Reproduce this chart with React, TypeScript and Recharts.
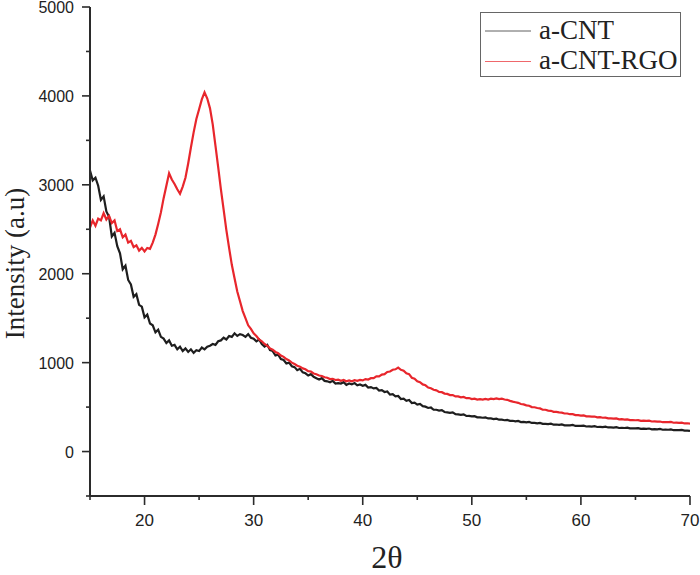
import React from 'react';
import { LineChart, Line, XAxis, YAxis, Legend } from 'recharts';

// 2θ sampling grid of the diffractograms
const THETA_START = 15;
const THETA_STEP = 0.25;

// Intensity (a.u), one value per 0.25° from 15° to 70°
const aCNT = [
  3160, 3050, 3080, 2990,
  2830, 2870, 2700, 2640,
  2420, 2460, 2310, 2230,
  2050, 2090, 1930, 1880,
  1740, 1770, 1650, 1630,
  1510, 1540, 1440, 1420,
  1340, 1370, 1290, 1270,
  1220, 1250, 1190, 1200,
  1150, 1180, 1130, 1160,
  1120, 1150, 1110, 1140,
  1130, 1170, 1150, 1180,
  1190, 1210, 1200, 1240,
  1250, 1280, 1260, 1300,
  1290, 1330, 1300, 1320,
  1310, 1290, 1320, 1280,
  1270, 1240, 1260, 1210,
  1180, 1200, 1140, 1130,
  1080, 1090, 1040, 1030,
  990, 1000, 960, 950,
  915, 930, 890, 880,
  855, 870, 840, 825,
  810, 825, 795, 790,
  780, 795, 765, 770,
  765, 780, 750, 765,
  755, 770, 745, 755,
  740, 750, 720, 725,
  710, 715, 685, 690,
  670, 675, 640, 645,
  620, 625, 590, 595,
  570, 580, 545, 550,
  528, 535, 510, 505,
  490, 495, 470, 470,
  460, 465, 445, 440,
  435, 440, 420, 418,
  412, 418, 400, 402,
  395, 398, 385, 385,
  380, 383, 372, 372,
  365, 370, 358, 358,
  352, 356, 345, 346,
  340, 344, 332, 334,
  328, 333, 322, 323,
  318, 322, 312, 312,
  308, 313, 302, 304,
  300, 305, 295, 296,
  294, 299, 288, 290,
  288, 292, 282, 284,
  281, 286, 276, 278,
  275, 280, 271, 272,
  270, 275, 265, 267,
  265, 269, 260, 262,
  260, 264, 255, 257,
  255, 259, 250, 252,
  250, 254, 245, 247,
  245, 249, 240, 242,
  240, 244, 235, 236,
  232,
];

const aCNTRGO = [
  2520, 2600, 2540, 2620,
  2600, 2680, 2610, 2650,
  2570, 2600, 2480, 2500,
  2410, 2440, 2350, 2370,
  2300, 2320, 2260, 2290,
  2250, 2290, 2280, 2350,
  2440, 2560, 2690, 2850,
  2990, 3130, 3060, 3010,
  2950, 2900, 2980, 3080,
  3240, 3420, 3590, 3740,
  3850, 3960, 4040, 3970,
  3860, 3680, 3440, 3200,
  2950, 2720, 2490, 2290,
  2100, 1950, 1800, 1690,
  1580, 1500, 1420, 1380,
  1330, 1300, 1260, 1240,
  1210, 1190, 1160, 1145,
  1120, 1105, 1080, 1065,
  1040, 1025, 1000, 985,
  965, 955, 935, 925,
  905, 900, 878, 870,
  855, 850, 835, 830,
  815, 818, 805, 808,
  795, 805, 790, 800,
  790, 802, 795, 805,
  800, 815, 810, 825,
  825, 845, 845, 865,
  870, 895, 900, 920,
  925, 945, 920, 910,
  880, 870, 830, 820,
  790, 780, 755, 745,
  720, 712, 695, 688,
  670, 668, 652, 648,
  635, 636, 620, 620,
  610, 614, 600, 602,
  590, 595, 585, 590,
  585, 592, 585, 595,
  590, 598, 590, 594,
  585, 582, 570, 562,
  555, 548, 535, 530,
  520, 515, 500, 498,
  490, 485, 470, 470,
  460, 458, 446, 446,
  440, 438, 428, 428,
  420, 420, 410, 410,
  405, 406, 396, 396,
  392, 394, 385, 386,
  380, 382, 373, 374,
  370, 372, 363, 364,
  360, 362, 354, 355,
  352, 354, 346, 347,
  345, 347, 338, 339,
  336, 338, 330, 331,
  330, 333, 324, 325,
  322, 325, 316, 318,
  315,
];

const X_TICKS = [15, 20, 25, 30, 35, 40, 45, 50, 55, 60, 65, 70];
const Y_TICKS = [-500, 0, 500, 1000, 1500, 2000, 2500, 3000, 3500, 4000, 4500, 5000];

const SERIES = [
  { key: 'aCNT', name: 'a-CNT', color: '#1e1e1e' },
  { key: 'aCNTRGO', name: 'a-CNT-RGO', color: '#e8262c' },
];

const rows = aCNT.map((v, i) => ({
  theta: THETA_START + i * THETA_STEP,
  aCNT: v,
  aCNTRGO: aCNTRGO[i],
}));

const AXIS = '#2b2b2b';
const SANS = '"Liberation Sans", Arial, sans-serif';
const SERIF = '"Liberation Serif", "Times New Roman", serif';

const XTick = (props: any) => {
  const { x, y, payload } = props;
  const major = payload.value % 10 === 0;
  return (
    <g>
      <line x1={x} x2={x} y1={y} y2={y + (major ? 9 : 4)} stroke={AXIS} strokeWidth={1.6} />
      {major && (
        <text x={x} y={y + 30} textAnchor="middle" fontFamily={SANS} fontSize={17} fill="#222">
          {payload.value}
        </text>
      )}
    </g>
  );
};

const YTick = (props: any) => {
  const { x, y, payload } = props;
  const major = payload.value % 1000 === 0;
  return (
    <g>
      <line x1={x - (major ? 8 : 4)} x2={x} y1={y} y2={y} stroke={AXIS} strokeWidth={1.6} />
      {major && (
        <text x={x - 16} y={y + 6} textAnchor="end" fontFamily={SANS} fontSize={16} fill="#222">
          {payload.value}
        </text>
      )}
    </g>
  );
};

const YTitle = (props: any) => {
  const vb = props.viewBox;
  const cx = vb.x + 24;
  const cy = vb.y + vb.height / 2 + 12;
  return (
    <text
      x={cx}
      y={cy}
      transform={`rotate(-90, ${cx}, ${cy})`}
      textAnchor="middle"
      fontFamily={SERIF}
      fontSize={27}
      fill="#222"
    >
      Intensity (a.u)
    </text>
  );
};

const XTitle = (props: any) => {
  const vb = props.viewBox;
  return (
    <text
      x={vb.x + vb.width / 2 - 3}
      y={vb.y + 72}
      textAnchor="middle"
      fontFamily={SERIF}
      fontSize={32}
      fill="#222"
    >
      2θ
    </text>
  );
};

const LegendBox = (props: any) => {
  const payload = props.payload || [];
  return (
    <svg width={202} height={66} style={{ display: 'block' }}>
      <rect x={0.5} y={0.5} width={200} height={64} fill="#fff" stroke="#666" strokeWidth={1} />
      {payload.map((p: any, i: number) => (
        <g key={p.value}>
          <line
            x1={5}
            x2={51}
            y1={19 + i * 30.5}
            y2={19 + i * 30.5}
            stroke={p.color}
            strokeOpacity={0.7}
            strokeWidth={1}
          />
          <text x={59} y={26.5 + i * 30} fontFamily={SERIF} fontSize={27} fill="#222">
            {p.value}
          </text>
        </g>
      ))}
    </svg>
  );
};

export default function App() {
  return (
    <div style={{ position: 'absolute', left: 0, top: 0, width: 700, height: 575, background: '#fff' }}>
      <LineChart width={700} height={575} data={rows} margin={{ top: 7, right: 10, bottom: 0, left: 0 }}>
        <XAxis
          dataKey="theta"
          type="number"
          domain={[15, 70]}
          ticks={X_TICKS}
          interval={0}
          height={79}
          tickSize={0}
          tickMargin={0}
          tickLine={false}
          axisLine={{ stroke: AXIS, strokeWidth: 2 }}
          tick={<XTick />}
          label={<XTitle />}
          allowDataOverflow
        />
        <XAxis
          xAxisId="top"
          dataKey="theta"
          type="number"
          orientation="top"
          domain={[15, 70]}
          height={0}
          tick={false}
          tickLine={false}
          axisLine={{ stroke: AXIS, strokeWidth: 1.6 }}
        />
        <YAxis
          type="number"
          domain={[-500, 5000]}
          ticks={Y_TICKS}
          interval={0}
          width={90}
          tickSize={0}
          tickMargin={0}
          tickLine={false}
          axisLine={{ stroke: AXIS, strokeWidth: 2 }}
          tick={<YTick />}
          label={<YTitle />}
          allowDataOverflow
        />
        <YAxis
          yAxisId="right"
          orientation="right"
          type="number"
          domain={[-500, 5000]}
          width={0}
          tick={false}
          tickLine={false}
          axisLine={{ stroke: AXIS, strokeWidth: 1.6 }}
        />
        <Legend
          layout="vertical"
          align="center"
          verticalAlign="middle"
          wrapperStyle={{ position: 'absolute', left: 480, top: 12, width: 202, height: 66 }}
          content={<LegendBox />}
        />
        {SERIES.map((s) => (
          <Line
            key={s.key}
            dataKey={s.key}
            name={s.name}
            stroke={s.color}
            strokeWidth={2.2}
            dot={false}
            activeDot={false}
            isAnimationActive={false}
          />
        ))}
      </LineChart>
    </div>
  );
}
